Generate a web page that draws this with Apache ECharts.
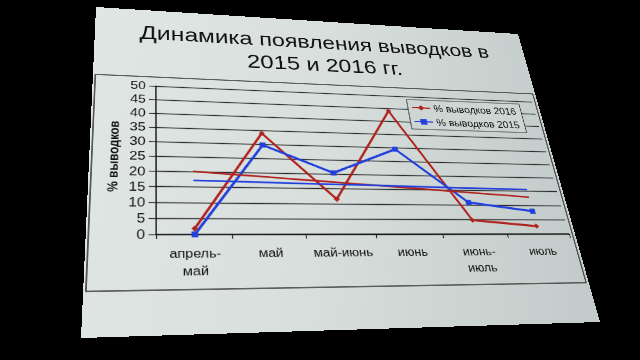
<!DOCTYPE html>
<html>
<head>
<meta charset="utf-8">
<script src="https://cdn.jsdelivr.net/npm/echarts@6/dist/echarts.min.js"></script>
<style>
  html, body { margin:0; padding:0; width:640px; height:360px; background:#000; overflow:hidden; }
  #slide { position:absolute; left:0; top:0; width:640px; height:480px; transform-origin:0 0;
           background:linear-gradient(100deg, #dfe6e3 0%, #d8dfdc 45%, #c2cbca 100%); }
  #chart { width:640px; height:480px; }
</style>
</head>
<body>
<div id="slide"><div id="chart"></div></div>
<script>
// ---- data ----
const titleLines = ['Динамика появления выводков в', '2015 и 2016 гг.'];
const categories = ['апрель-\nмай', 'май', 'май-июнь', 'июнь', 'июнь-\nиюль', 'июль'];
const seriesNames = ['% выводков 2016', '% выводков 2015'];
const pct2016 = [1.8, 34, 11.5, 44, 4.7, 2.7];
const pct2015 = [0, 29.8, 20.5, 29.5, 10.8, 7.9];
const trend2016 = [20.2, null, null, null, null, 12.9];
const trend2015 = [17.2, null, null, null, null, 15.6];
const yAxisName = '% выводков';
const yMin = 0, yMax = 50, yStep = 5;

// ---- photo perspective of the projected slide ----
function quadTransform(W, H, q) {
  const [x0, y0] = q[0], [x1, y1] = q[1], [x2, y2] = q[2], [x3, y3] = q[3];
  const sx = x0 - x1 + x2 - x3, sy = y0 - y1 + y2 - y3;
  const dx1 = x1 - x2, dx2 = x3 - x2, dy1 = y1 - y2, dy2 = y3 - y2;
  const det = dx1 * dy2 - dx2 * dy1;
  const g = (sx * dy2 - dx2 * sy) / det, h = (dx1 * sy - sx * dy1) / det;
  const a = x1 - x0 + g * x1, b = x3 - x0 + h * x3, c = x0;
  const d = y1 - y0 + g * y1, e = y3 - y0 + h * y3, f = y0;
  return `matrix3d(${a / W},${d / W},0,${g / W},${b / H},${e / H},0,${h / H},0,0,1,0,${c},${f},0,1)`;
}
document.getElementById('slide').style.transform =
  quadTransform(640, 480, [[96, 7], [518, 34], [600, 322], [81, 338]]);

const FONT = '"Liberation Sans", Arial, sans-serif';
const RED = '#b0231e', BLUE = '#2340dc';

const chart = echarts.init(document.getElementById('chart'), null, { renderer: 'svg' });
chart.setOption({
  animation: false,
  backgroundColor: 'transparent',
  title: titleLines.map((t, i) => ({
    text: t, left: 'center', top: 18 + i * 41,
    textStyle: { fontFamily: FONT, fontSize: 34, fontWeight: 'normal', color: '#111' }
  })),
  graphic: [{
    type: 'rect', z: -1, silent: true,
    shape: { x: 3, y: 117, width: 633, height: 308 },
    style: { fill: 'none', stroke: '#333', lineWidth: 1.6 }
  }],
  legend: {
    data: seriesNames,
    orient: 'vertical', left: 432, top: 137,
    itemWidth: 28, itemHeight: 12, itemGap: 8,
    padding: [6, 8, 5, 5],
    backgroundColor: '#ced6d4', borderColor: '#333', borderWidth: 1.2,
    textStyle: { fontFamily: FONT, fontSize: 16, color: '#111' }
  },
  grid: { left: 81, right: 9, top: 132, bottom: 127, outerBoundsMode: 'none', containLabel: false },
  xAxis: {
    type: 'category', data: categories, boundaryGap: true,
    axisLine: { lineStyle: { color: '#111', width: 1.6 } },
    axisTick: { show: true, length: 6, inside: false, alignWithLabel: false, lineStyle: { color: '#111', width: 1.2 } },
    axisLabel: { interval: 0, margin: 14, fontFamily: FONT, fontSize: 17, lineHeight: 23, color: '#111', align: 'center' },
    splitLine: { show: false }
  },
  yAxis: {
    type: 'value', min: yMin, max: yMax, interval: yStep,
    name: yAxisName, nameLocation: 'middle', nameRotate: 90, nameGap: 42,
    nameTextStyle: { fontFamily: FONT, fontSize: 17, fontWeight: 'bold', color: '#111' },
    axisLine: { show: true, lineStyle: { color: '#111', width: 1.6 } },
    axisTick: { show: true, length: 9, inside: false, lineStyle: { color: '#222', width: 1.2 } },
    axisLabel: { margin: 13, fontFamily: FONT, fontSize: 18, color: '#111' },
    splitLine: { show: true, lineStyle: { color: '#2a2a2a', width: 1.3 } }
  },
  series: [
    { name: seriesNames[0], type: 'line', data: pct2016, color: RED,
      symbol: 'diamond', symbolSize: 8, showSymbol: true,
      lineStyle: { color: RED, width: 3.2 }, itemStyle: { color: RED } },
    { name: seriesNames[1], type: 'line', data: pct2015, color: BLUE,
      symbol: 'rect', symbolSize: 8, showSymbol: true,
      lineStyle: { color: BLUE, width: 3.4 }, itemStyle: { color: BLUE } },
    { name: 'trend2016', type: 'line', data: trend2016, connectNulls: true,
      symbol: 'none', lineStyle: { color: RED, width: 2.6 }, itemStyle: { color: RED } },
    { name: 'trend2015', type: 'line', data: trend2015, connectNulls: true,
      symbol: 'none', lineStyle: { color: BLUE, width: 2.6 }, itemStyle: { color: BLUE } }
  ]
});
</script>
</body>
</html>
